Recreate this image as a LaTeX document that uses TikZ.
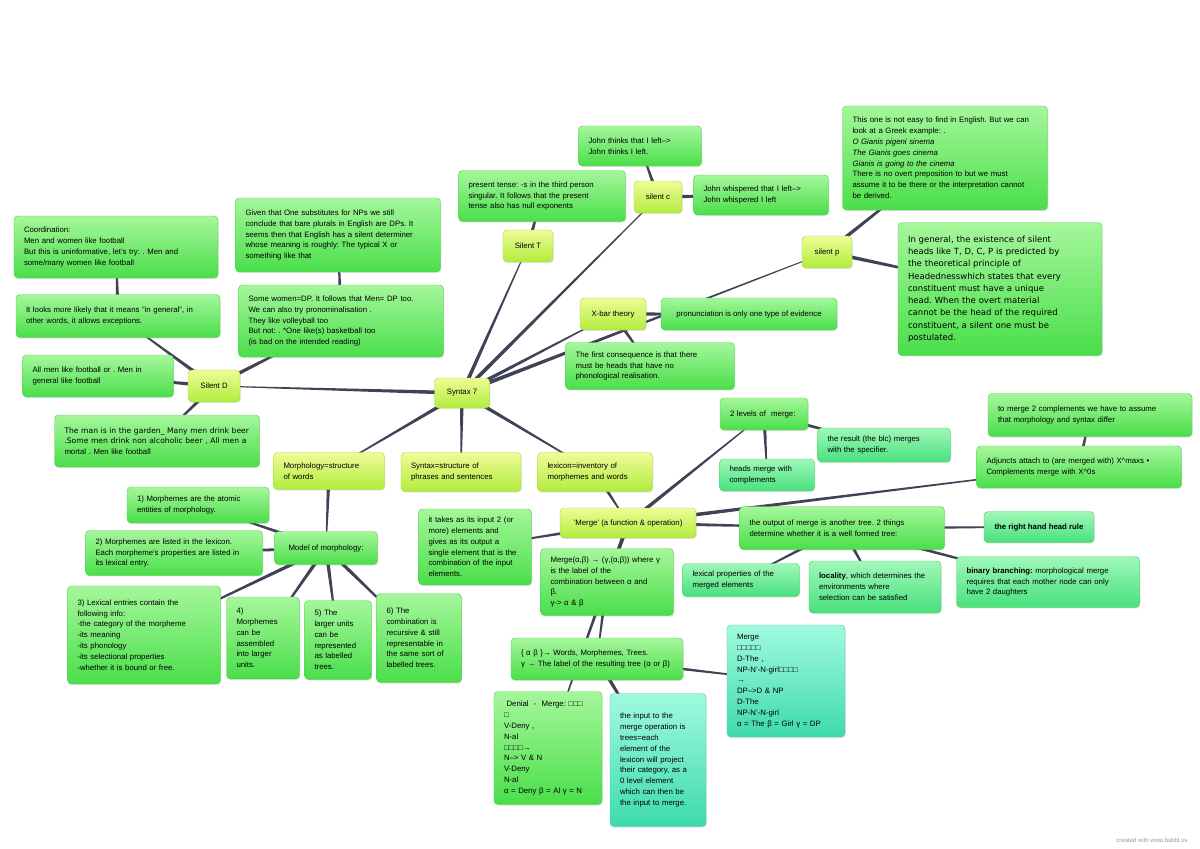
\documentclass[tikz,border=0pt]{standalone}
\usepackage{fontspec}
\setmainfont{Liberation Sans}
\newfontfamily\dejavu{DejaVu Sans}
\usetikzlibrary{calc,shadows}
\definecolor{linkgray}{RGB}{64,66,86}
\definecolor{gtop}{RGB}{165,247,155}
\definecolor{gbot}{RGB}{74,222,74}
\definecolor{gline}{RGB}{80,205,80}
\definecolor{ytop}{RGB}{238,252,150}
\definecolor{ybot}{RGB}{178,236,62}
\definecolor{yline}{RGB}{165,215,70}
\definecolor{ttop}{RGB}{160,250,222}
\definecolor{tbot}{RGB}{62,218,172}
\definecolor{tline}{RGB}{70,200,160}
\definecolor{mtop}{RGB}{160,248,185}
\definecolor{mbot}{RGB}{72,224,125}
\pgfdeclarelayer{background}
\pgfsetlayers{background,main}
\frenchspacing
% tapered link, wide at the parent end
\newcommand{\taper}[2]{\fill[linkgray] ($(#1)!2pt!90:(#2)$) -- ($(#2)!0.4pt!-90:(#1)$) -- ($(#2)!0.4pt!90:(#1)$) -- ($(#1)!2pt!-90:(#2)$) -- cycle;}

\begin{document}
\begin{tikzpicture}[x=1pt,y=-1pt,
    box/.style={rounded corners=4pt,inner xsep=10pt,inner ysep=3pt,align=left,
        font=\fontsize{7.8}{10.8}\selectfont,
        drop shadow={opacity=0.18,shadow xshift=0.8pt,shadow yshift=-1.2pt}},
    gbox/.style={box,draw=gline,top color=gtop,bottom color=gbot},
    ybox/.style={box,draw=yline,top color=ytop,bottom color=ybot},
    tbox/.style={box,draw=tline,top color=ttop,bottom color=tbot},
    mbox/.style={box,draw=gline,top color=mtop,bottom color=mbot},
    key/.style={align=center,inner xsep=2pt}
]
\useasboundingbox (0,0) rectangle (1200,849);

% centre and silent heads
\node[ybox,key,minimum width=55pt,minimum height=30pt] (syn) at (462,393) {Syntax 7};
\node[ybox,key,minimum width=52pt,minimum height=32pt] (silentD) at (214,386) {Silent D};
\node[ybox,key,minimum width=50pt,minimum height=32pt] (silentT) at (528,246) {Silent T};
\node[ybox,key,minimum width=48pt,minimum height=32pt] (silentc) at (658,197) {silent c};
\node[ybox,key,minimum width=50pt,minimum height=32pt] (silentp) at (827,252) {silent p};
\node[ybox,key,minimum width=66pt,minimum height=32pt] (xbar) at (613,314) {X-bar theory};

% silent D
\node[gbox,text width=184pt,minimum height=62pt] (coord) at (116,247)
  {Coordination:\\Men and women like football\\But this is uninformative, let's try: . Men and\\some/many women like football};
\node[gbox,text width=184pt,minimum height=43pt] (likely) at (118,316)
  {It looks more likely that it means ''in general'', in\\other words, it allows exceptions.};
\node[gbox,text width=131pt,minimum height=42pt] (allmen) at (98,376)
  {All men like football or . Men in\\general like football};
\node[gbox,text width=185pt,minimum height=52pt] (garden) at (157,441)
  {{\dejavu\fontsize{7.6}{10.6}\selectfont The man is in the garden\_ Many men drink beer}\\{\dejavu\fontsize{7.6}{10.6}\selectfont .Some men drink non alcoholic beer , All men a}\\mortal . Men like football};
\node[gbox,text width=185pt,minimum height=74pt] (given) at (338,235)
  {Given that One substitutes for NPs we still\\conclude that bare plurals in English are DPs. It\\seems then that English has a silent determiner\\whose meaning is roughly: The typical X or\\something like that};
\node[gbox,text width=185pt,minimum height=72pt] (women) at (341,321)
  {Some women=DP. It follows that Men= DP too.\\We can also try pronominalisation .\\They like volleyball too\\But not: . *One like(s) basketball too\\(is bad on the intended reading)};

% silent T, c, p
\node[gbox,text width=147pt,minimum height=51pt] (present) at (542,196)
  {present tense: -s in the third person\\singular. It follows that the present\\tense also has null exponents};
\node[gbox,text width=103pt,minimum height=40pt] (thinks) at (640,146)
  {John thinks that I left-->\\John thinks I left.};
\node[gbox,text width=115pt,minimum height=40pt] (whisper) at (761,195)
  {John whispered that I left-->\\John whispered I left};
\node[gbox,text width=185pt,minimum height=104pt] (greek) at (945,158)
  {This one is not easy to find in English. But we can\\look at a Greek example: .\\\textit{O Gianis pigeni sinema}\\\textit{The Gianis goes cinema}\\\textit{Gianis is going to the cinema}\\There is no overt preposition to but we must\\assume it to be there or the interpretation cannot\\be derived.};
\node[gbox,text width=184pt,minimum height=133pt,font=\dejavu\fontsize{8.5}{12.3}\selectfont] (general) at (1000,289)
  {In general, the existence of silent\\heads like T, D, C, P is predicted by\\the theoretical principle of\\Headednesswhich states that every\\constituent must have a unique\\head. When the overt material\\cannot be the head of the required\\constituent, a silent one must be\\postulated.};

% X-bar theory
\node[gbox,key,minimum width=176pt,minimum height=32pt] (pron) at (749,314)
  {pronunciation is only one type of evidence};
\node[gbox,text width=149pt,minimum height=47pt] (first) at (650,366)
  {The first consequence is that there\\must be heads that have no\\phonological realisation.};

% lower branches
\node[ybox,text width=91pt,minimum height=37pt] (morph) at (329,471) {Morphology=structure\\of words};
\node[ybox,text width=100pt,minimum height=39pt] (syntaxs) at (461,472) {Syntax=structure of\\phrases and sentences};
\node[ybox,text width=95pt,minimum height=39pt] (lexicon) at (595,472) {lexicon=inventory of\\morphemes and words};

% morphology
\node[gbox,key,minimum width=103pt,minimum height=33pt] (model) at (326,548) {Model of morphology:};
\node[gbox,text width=122pt,minimum height=36pt] (mA) at (198,505)
  {1) Morphemes are the atomic\\entities of morphology.};
\node[gbox,text width=157pt,minimum height=45pt] (mB) at (174,553)
  {2) Morphemes are listed in the lexicon.\\Each morpheme's properties are listed in\\its lexical entry.};
\node[gbox,text width=133pt,minimum height=98pt] (mC) at (144,635)
  {3) Lexical entries contain the\\following info:\\-the category of the morpheme\\-its meaning\\-its phonology\\-its selectional properties\\-whether it is bound or free.};
\node[gbox,text width=53pt,minimum height=82pt] (mD) at (263,638)
  {4)\\Morphemes\\can be\\assembled\\into larger\\units.};
\node[gbox,text width=47pt,minimum height=79pt] (mE) at (338,640)
  {5) The\\larger units\\can be\\represented\\as labelled\\trees.};
\node[gbox,text width=65pt,minimum height=89pt] (mF) at (419,638)
  {6) The\\combination is\\recursive \& still\\representable in\\the same sort of\\labelled trees.};

% merge
\node[ybox,key,minimum width=136pt,minimum height=30pt] (merge) at (628,523) {'Merge' (a function \& operation)};
\node[gbox,text width=93pt,minimum height=76pt] (takes) at (475,547)
  {it takes as its input 2 (or\\more) elements and\\gives as its output a\\single element that is the\\combination of the input\\elements.};
\node[gbox,text width=113pt,minimum height=67pt] (mab) at (607,582)
  {Merge(α,β) → (γ,(α,β)) where γ\\is the label of the\\combination between α and\\β.\\γ-> α \& β};
\node[gbox,text width=68pt,minimum height=32pt] (levels) at (764,414) {2 levels of \ merge:};
\node[mbox,text width=75pt,minimum height=32pt] (heads) at (767,475) {heads merge with\\complements};
\node[mbox,text width=113pt,minimum height=34pt] (result) at (884,445) {the result (the blc) merges\\with the specifier.};
\node[gbox,text width=184pt,minimum height=43pt] (tomerge) at (1090,415)
  {to merge 2 complements we have to assume\\that morphology and syntax differ};
\node[gbox,text width=185pt,minimum height=42pt] (adjuncts) at (1079,467)
  {Adjuncts attach to (are merged with) X\^{}maxs •\\Complements merge with X\^{}0s};
\node[gbox,text width=185pt,minimum height=43pt] (output) at (842,528)
  {the output of merge is another tree. 2 things\\determine whether it is a well formed tree:};
\node[mbox,key,minimum width=110pt,minimum height=31pt] (righthand) at (1039,527) {\textbf{the right hand head rule}};
\node[mbox,text width=97pt,minimum height=33pt] (lexprop) at (741,580) {lexical properties of the\\merged elements};
\node[mbox,text width=112pt,minimum height=52pt] (locality) at (875,587)
  {\textbf{locality}, which determines the\\environments where\\selection can be satisfied};
\node[mbox,text width=163pt,minimum height=51pt] (binary) at (1048,582)
  {\textbf{binary branching:} morphological merge\\requires that each mother node can only\\have 2 daughters};
\node[gbox,text width=152pt,minimum height=42pt] (ab) at (597,659)
  {\{ α β \}→ Words, Morphemes, Trees.\\γ → The label of the resulting tree (α or β)};
\node[gbox,text width=88pt,minimum height=113pt] (denial) at (548,748)
  {\ Denial \ - \ Merge: □□□\\□\\V-Deny ,\\N-al\\□□□□→\\N--> V \& N\\V-Deny\\N-al\\α = Deny β = Al γ = N};
\node[tbox,text width=76pt,minimum height=133pt] (input) at (658,760)
  {the input to the\\merge operation is\\trees=each\\element of the\\lexicon will project\\their category, as a\\0 level element\\which can then be\\the input to merge.\\[18pt]};
\node[tbox,text width=98pt,minimum height=112pt] (mteal) at (786,681)
  {Merge\\□□□□□\\D-The ,\\NP-N'-N-girl□□□□\\→\\DP-->D \& NP\\D-The\\NP-N'-N-girl\\α = The β = Girl γ = DP};

\node[text=black!40,font=\fontsize{6}{7}\selectfont,anchor=east] (credit) at (1191,840) {created with www.bubbl.us};

\begin{pgfonlayer}{background}
\fill[white] (0,0) rectangle (1200,849);
\foreach \p/\c in {syn/silentD,syn/silentT,syn/silentc,syn/silentp,syn/xbar,
    syn/morph,syn/syntaxs,syn/lexicon,
    silentD/likely,likely/coord,silentD/allmen,silentD/garden,silentD/women,women/given,
    silentT/present,silentc/thinks,silentc/whisper,silentp/greek,silentp/general,
    xbar/pron,xbar/first,morph/model,
    model/mA,model/mB,model/mC,model/mD,model/mE,model/mF,
    lexicon/merge,merge/takes,merge/mab,merge/levels,merge/adjuncts,merge/output,merge/denial,
    levels/heads,levels/result,adjuncts/tomerge,
    output/righthand,output/lexprop,output/locality,output/binary,
    mab/ab,ab/input,ab/mteal}
  {\taper{\p}{\c}}
\end{pgfonlayer}
\end{tikzpicture}
\end{document}
